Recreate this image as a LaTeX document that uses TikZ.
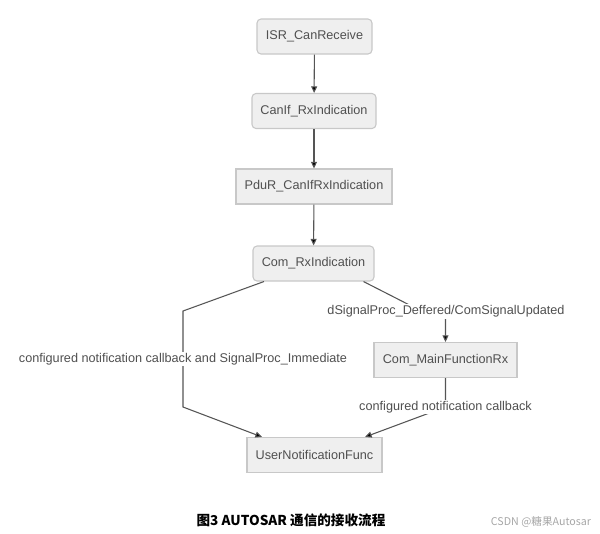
\documentclass[tikz,border=0pt]{standalone}
\usepackage{fontspec}
\setmainfont{Liberation Sans}
\newfontfamily\cjk{Noto Sans CJK SC}
\usepackage{tikz}
\usetikzlibrary{arrows.meta}
\usetikzlibrary{calc}
\definecolor{boxfill}{RGB}{239,239,239}
\definecolor{boxline}{RGB}{200,200,200}
\definecolor{txtgray}{RGB}{80,80,80}
\definecolor{linegray}{RGB}{85,85,85}
\tikzset{
  fnbox/.style={draw=boxline, fill=boxfill, line width=0.8pt, text=txtgray, font=\fontsize{9.5}{11}\selectfont, minimum height=35*0.75pt, inner sep=0pt},
  fnround/.style={fnbox, rounded corners=3pt},
  flow/.style={draw=linegray, line width=0.8pt, -{Triangle[length=5pt,width=4.5pt,fill=black]}},
  cond/.style={fill=white, text=txtgray, font=\fontsize{9.5}{11}\selectfont, inner sep=1pt}
}

\begin{document}
\begin{tikzpicture}[x=0.75pt,y=0.75pt,yscale=-1,xscale=1]
\useasboundingbox (0,0) rectangle (600,533);

% function boxes
\node [fnround, minimum width=115*0.75pt] (isr) at (314.5,36.5) {ISR\_CanReceive};
\node [fnround, minimum width=124*0.75pt] (canif) at (314,111) {CanIf\_RxIndication};
\node [fnbox, minimum width=156*0.75pt] (pdur) at (314,186.5) {PduR\_CanIfRxIndication};
\node [fnround, minimum width=121*0.75pt] (comrx) at (313.5,263.5) {Com\_RxIndication};
\node [fnbox, minimum width=143*0.75pt] (commain) at (445.5,360) {Com\_MainFunctionRx};
\node [fnbox, minimum width=135*0.75pt] (usernotif) at (314.5,455) {UserNotificationFunc};

% bend points
\coordinate (l1) at (183,311);
\coordinate (l2) at (183,407);
\coordinate (r1) at (431,316);
\coordinate (r1b) at (445.5,316);
\coordinate (r2) at (445.5,407);

% straight chain
\draw [flow] (isr) -- (canif);
\draw [flow] (canif) -- (pdur);
\draw [flow] (pdur) -- (comrx);

% branches
\draw [flow] ($(comrx.south)+(-49.5,0)$) -- (l1) -- (l2) -- ($(usernotif.north)+(-52.5,0)$);
\draw [flow] ($(comrx.south)+(50,0)$) -- (r1) -- (r1b) -- (commain.north);
\draw [flow] (commain.south) -- (r2) -- ($(usernotif.north)+(50.5,0)$);

% edge labels
\node [cond] (lbimm) at (183,359) {configured notification callback and SignalProc\_Immediate};
\node [cond] (lbdef) at (446,311.5) {dSignalProc\_Deffered/ComSignalUpdated};
\node [cond] (lbcb) at (445.5,407) {configured notification callback};

% caption
\node [font=\cjk\bfseries\fontsize{10.2}{12}\selectfont] (caption) at (291,520) {图3 AUTOSAR 通信的接收流程};
\node [font=\cjk\fontsize{8}{10}\selectfont, text=gray!70] (mark) at (541,521.5) {CSDN @糖果Autosar};

\end{tikzpicture}
\end{document}
